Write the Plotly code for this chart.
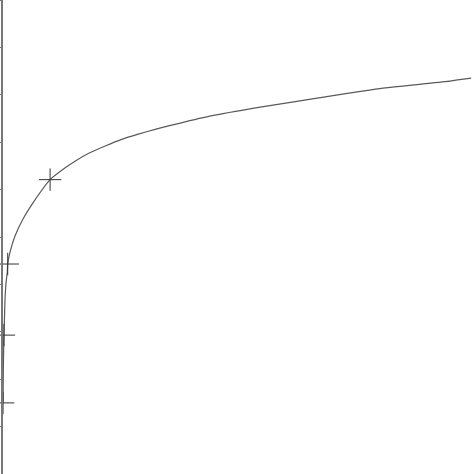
import plotly.graph_objects as go

# curve (x in axis units 0-100, y in tick units)
curve_x = [0.01, 0.04, 0.1, 0.2, 0.32, 0.42, 0.64, 0.91, 1.0, 1.49, 2.55, 4.25,
           6.37, 10.0, 13.2, 15.3, 18.1, 21.7, 25.2, 28.7, 32.3, 35.8, 43.9,
           54.6, 66.7, 80.7, 94.9, 99.4]
curve_y = [1.50, 1.92, 2.41, 2.93, 3.31, 3.67, 4.03, 4.26, 4.43, 4.68, 5.02, 5.38,
           5.72, 6.21, 6.46, 6.60, 6.76, 6.92, 7.06, 7.17, 7.27, 7.36, 7.55,
           7.74, 7.93, 8.14, 8.29, 8.35]

# cross markers
marker_x = [0.01, 0.2, 1.0, 10.0]
marker_y = [1.50, 2.93, 4.43, 6.21]

y_ticks = [0, 1, 2, 3, 4, 5, 6, 7, 8, 9, 10]

fig = go.Figure()

fig.add_trace(go.Scatter(
    x=curve_x, y=curve_y,
    mode='lines',
    line=dict(color='#5a5a5a', width=1.2, shape='spline', smoothing=0.5),
    hoverinfo='skip',
))

fig.add_trace(go.Scatter(
    x=marker_x, y=marker_y,
    mode='markers',
    marker=dict(symbol='cross-thin', size=16, line=dict(color='#333333', width=1)),
    cliponaxis=False,
))

fig.update_layout(
    width=474, height=474,
    margin=dict(l=3, r=0, t=0, b=0),
    paper_bgcolor='white',
    plot_bgcolor='white',
    showlegend=False,
    xaxis=dict(range=[0, 100], showgrid=False, zeroline=False,
               showticklabels=False, showline=False, ticks=''),
    yaxis=dict(range=[0, 10], showgrid=False, zeroline=False,
               showticklabels=False, showline=True, linecolor='#777777',
               linewidth=1.5, ticks='outside', ticklen=3, tickcolor='#777777',
               tickwidth=1, tickvals=y_ticks),
)

# drop the page's default 8px body margin so the figure sits at the corner
fig.write_html("out.html", config=dict(displayModeBar=False),
               post_script="document.body.style.margin='0';document.body.style.overflow='hidden';")
